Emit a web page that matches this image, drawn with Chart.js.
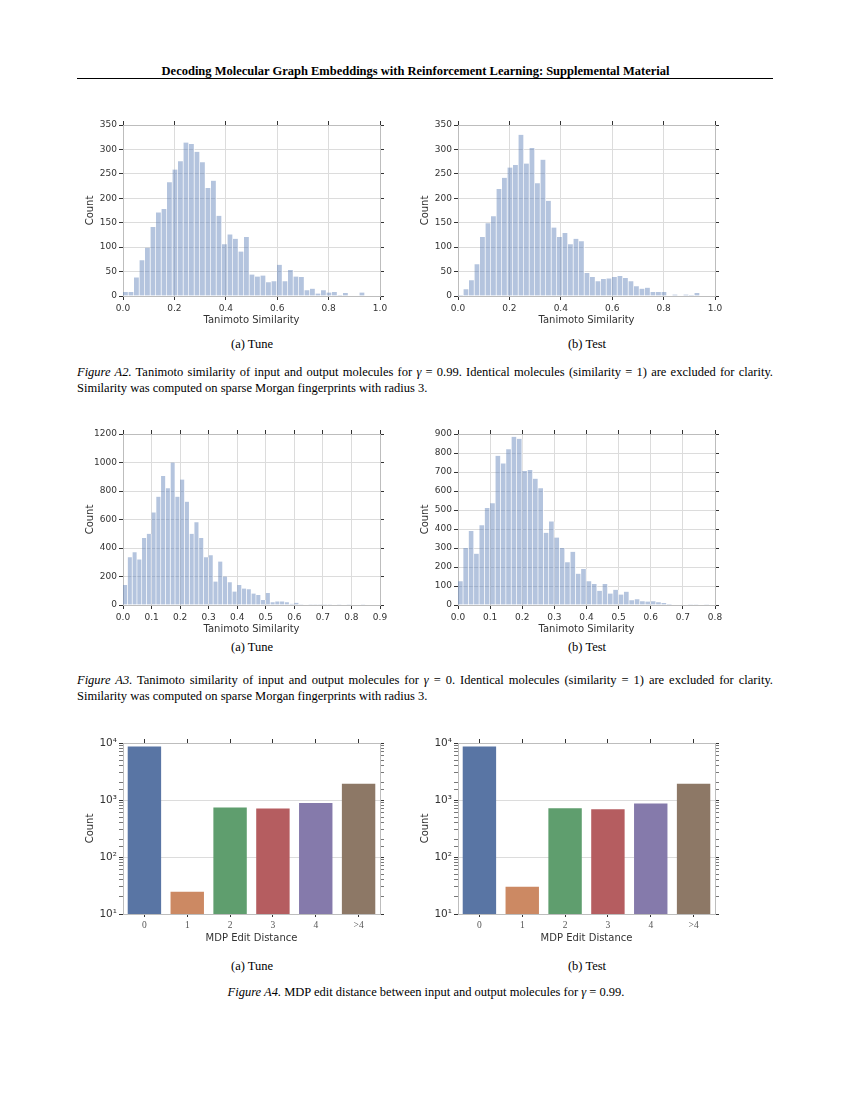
<!DOCTYPE html>
<html>
<head>
<meta charset="utf-8">
<script src="https://cdn.jsdelivr.net/npm/chart.js@4.4.1/dist/chart.umd.min.js"></script>
<style>
  body { margin: 0; width: 850px; height: 1100px; position: relative; background: #fff; color: #000;
         font-family: "Liberation Serif", "Times New Roman", serif; }
  .t { position: absolute; white-space: nowrap; font-size: 12.5px; line-height: 14px; }
  .c { text-align: center; }
  .j { text-align: justify; text-align-last: justify; white-space: normal; }
  canvas { position: absolute; }
</style>
</head>
<body>

<div class="t c" style="left:0;width:831px;top:64px;font-weight:bold;">Decoding Molecular Graph Embeddings with Reinforcement Learning: Supplemental Material</div>
<div style="position:absolute;left:77px;top:78px;width:696px;height:1.4px;background:#000;"></div>

<canvas id="a2tune" width="315" height="220" style="left:80px;top:110px;"></canvas>
<canvas id="a2test" width="315" height="220" style="left:415px;top:110px;"></canvas>
<div class="t c" style="left:152px;width:200px;top:337px;">(a) Tune</div>
<div class="t c" style="left:487px;width:200px;top:337px;">(b) Test</div>
<div class="t j" style="left:77px;width:696px;top:365px;"><i>Figure A2.</i> Tanimoto similarity of input and output molecules for <i>γ</i> = 0.99. Identical molecules (similarity = 1) are excluded for clarity.</div>
<div class="t" style="left:77px;top:381px;">Similarity was computed on sparse Morgan fingerprints with radius 3.</div>

<canvas id="a3tune" width="315" height="220" style="left:80px;top:419px;"></canvas>
<canvas id="a3test" width="315" height="220" style="left:415px;top:419px;"></canvas>
<div class="t c" style="left:152px;width:200px;top:640px;">(a) Tune</div>
<div class="t c" style="left:487px;width:200px;top:640px;">(b) Test</div>
<div class="t j" style="left:77px;width:696px;top:673px;"><i>Figure A3.</i> Tanimoto similarity of input and output molecules for <i>γ</i> = 0. Identical molecules (similarity = 1) are excluded for clarity.</div>
<div class="t" style="left:77px;top:689px;">Similarity was computed on sparse Morgan fingerprints with radius 3.</div>

<canvas id="a4tune" width="315" height="220" style="left:80px;top:728px;"></canvas>
<canvas id="a4test" width="315" height="220" style="left:415px;top:728px;"></canvas>
<div class="t c" style="left:152px;width:200px;top:959px;">(a) Tune</div>
<div class="t c" style="left:487px;width:200px;top:959px;">(b) Test</div>
<div class="t c" style="left:0;width:852px;top:985px;"><i>Figure A4.</i> MDP edit distance between input and output molecules for <i>γ</i> = 0.99.</div>

<script>
// Figure A2 (gamma = 0.99), histogram counts per bin
const binA2 = 0.0214;
const tuneA2 = [8, 8, 38, 73, 99, 141, 171, 178, 233, 259, 276, 314, 311, 295, 274, 221, 236, 164, 106, 126,
                117, 91, 121, 44, 40, 42, 28, 30, 64, 30, 53, 40, 39, 12, 15, 5, 12, 7, 8, 2, 6, 1, 1, 7];
const testA2 = [2, 14, 32, 65, 121, 149, 163, 219, 242, 263, 268, 330, 271, 303, 231, 279, 195, 140, 121, 129,
                106, 117, 112, 47, 39, 30, 35, 36, 39, 41, 37, 30, 20, 15, 17, 8, 8, 8, 1, 3, 1, 3, 2, 6];

// Figure A3 (gamma = 0)
const binA3 = 1 / 60;
const tuneA3 = [140, 335, 370, 320, 470, 500, 650, 760, 905, 820, 1000, 760, 880, 725, 500, 580, 470, 335, 350, 165,
                305, 200, 160, 95, 140, 115, 110, 80, 70, 35, 85, 20, 25, 25, 20, 8, 15, 5, 3, 2,
                2, 1, 1, 1, 0, 1, 0, 1, 0, 0, 1];
const testA3 = [125, 300, 390, 270, 420, 510, 535, 785, 745, 820, 885, 875, 705, 710, 665, 615, 380, 440, 355, 300,
                225, 280, 165, 190, 125, 110, 75, 110, 60, 80, 55, 70, 25, 30, 20, 18, 20, 15, 10, 5,
                3, 3, 2, 1, 1, 0, 1];

// Figure A4, MDP edit distance (log counts)
const editLabels = ['0', '1', '2', '3', '4', '>4'];
const tuneA4 = [8700, 24.5, 740, 710, 890, 1930];
const testA4 = [8700, 30, 720, 690, 870, 1930];
const editColors = ['#5975a4', '#cc8963', '#5f9e6e', '#b55d60', '#857aab', '#8d7866'];

const gridCol = '#dcdcdc';
const spineCol = '#bdbdbd';
const tickCol = '#333';
const labelCol = '#333';
const tickFont = { family: 'DejaVu Sans', size: 9 };
const titleFont = { family: 'DejaVu Sans', size: 10 };

const baseOpts = {
  responsive: false,
  animation: false,
  events: [],
  layout: { padding: 0 },
  plugins: { legend: { display: false }, tooltip: { enabled: false } }
};

function histogram(id, counts, binWidth, xMax, yMax, yStep) {
  const pts = counts.map((c, i) => ({ x: (i + 0.5) * binWidth, y: c }));
  const xStep = xMax > 0.95 ? 0.2 : 0.1;
  new Chart(document.getElementById(id), {
    type: 'bar',
    data: {
      datasets: [{
        data: pts,
        backgroundColor: 'rgba(76,114,176,0.42)',
        borderColor: 'rgba(255,255,255,0.75)',
        borderWidth: { top: 0, left: 0, right: 1, bottom: 0 },
        borderSkipped: false,
        barPercentage: 1,
        categoryPercentage: 1
      }]
    },
    options: {
      ...baseOpts,
      scales: {
        x: {
          type: 'linear', position: 'bottom', min: 0, max: xMax, offset: false,
          ticks: { stepSize: xStep, callback: v => v.toFixed(1), font: tickFont, color: labelCol,
                   padding: 3, maxRotation: 0, autoSkip: false },
          grid: { color: gridCol, tickColor: tickCol, tickLength: 4, offset: false },
          border: { color: spineCol },
          title: { display: true, text: 'Tanimoto Similarity', font: titleFont, color: labelCol, padding: { top: 0, bottom: 4 } },
          afterFit: s => { s.height = 34; }
        },
        x2: {
          type: 'linear', position: 'top', min: 0, max: xMax, offset: false,
          ticks: { stepSize: xStep, display: false },
          grid: { drawOnChartArea: false, tickColor: tickCol, tickLength: 4, offset: false },
          border: { color: spineCol },
          afterFit: s => { s.height = 15; }
        },
        y: {
          min: 0, max: yMax,
          ticks: { stepSize: yStep, callback: v => String(v), font: tickFont, color: labelCol, padding: 2 },
          grid: { color: gridCol, tickColor: tickCol, tickLength: 4 },
          border: { color: spineCol },
          title: { display: true, text: 'Count', font: titleFont, color: labelCol, padding: { top: 4, bottom: 0 } },
          afterFit: s => { s.width = 43; }
        },
        y2: {
          position: 'right', min: 0, max: yMax,
          ticks: { stepSize: yStep, display: false },
          grid: { drawOnChartArea: false, tickColor: tickCol, tickLength: 4 },
          border: { color: spineCol },
          afterFit: s => { s.width = 15; }
        }
      }
    }
  });
}

const isPow = v => Math.abs(Math.log10(v) - Math.round(Math.log10(v))) < 1e-9;
const sup = { 1: '¹', 2: '²', 3: '³', 4: '⁴' };
const minorTick = ctx => (ctx.tick && isPow(ctx.tick.value)) ? tickCol : '#777';

function logBars(id, values) {
  new Chart(document.getElementById(id), {
    type: 'bar',
    data: {
      labels: editLabels,
      datasets: [{ data: values, backgroundColor: editColors, barPercentage: 0.78, categoryPercentage: 1 }]
    },
    options: {
      ...baseOpts,
      scales: {
        x: {
          position: 'bottom',
          ticks: { font: { family: 'Liberation Serif', size: 9.5 }, color: '#555', padding: 3 },
          grid: { drawOnChartArea: false, offset: false, tickColor: tickCol, tickLength: 3 },
          border: { color: spineCol },
          title: { display: true, text: 'MDP Edit Distance', font: titleFont, color: labelCol, padding: { top: 0, bottom: 4 } },
          afterFit: s => { s.height = 34; }
        },
        x2: {
          type: 'category', labels: editLabels, position: 'top', offset: true,
          ticks: { display: false },
          grid: { drawOnChartArea: false, offset: false, tickColor: tickCol, tickLength: 4 },
          border: { color: spineCol },
          afterFit: s => { s.height = 15; }
        },
        y: {
          type: 'logarithmic', min: 10, max: 10000,
          ticks: { autoSkip: false, font: { family: 'DejaVu Sans', size: 10.5 }, color: labelCol, padding: 2,
                   callback: v => isPow(v) ? '10' + sup[Math.round(Math.log10(v))] : '' },
          grid: { color: ctx => (ctx.tick && isPow(ctx.tick.value)) ? gridCol : 'rgba(0,0,0,0)',
                  tickColor: minorTick, tickLength: 4 },
          border: { color: spineCol },
          title: { display: true, text: 'Count', font: titleFont, color: labelCol, padding: { top: 4, bottom: 0 } },
          afterFit: s => { s.width = 43; }
        },
        y2: {
          type: 'logarithmic', position: 'right', min: 10, max: 10000,
          ticks: { display: false, autoSkip: false },
          grid: { drawOnChartArea: false, tickColor: minorTick, tickLength: 4 },
          border: { color: spineCol },
          afterFit: s => { s.width = 15; }
        }
      }
    }
  });
}

histogram('a2tune', tuneA2, binA2, 1.0, 350, 50);
histogram('a2test', testA2, binA2, 1.0, 350, 50);
histogram('a3tune', tuneA3, binA3, 0.9, 1200, 200);
histogram('a3test', testA3, binA3, 0.8, 900, 100);
logBars('a4tune', tuneA4);
logBars('a4test', testA4);
</script>
</body>
</html>
